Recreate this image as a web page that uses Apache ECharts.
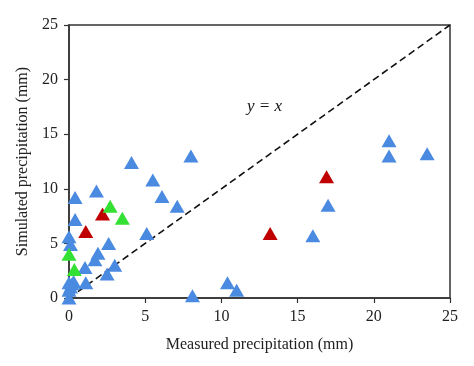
<!DOCTYPE html>
<html><head><meta charset="utf-8">
<script src="https://cdn.jsdelivr.net/npm/echarts@6/dist/echarts.min.js"></script>
<style>html,body{margin:0;padding:0;background:#fff}#c{width:474px;height:366px}</style>
</head><body><div id="c"></div>
<script>
const xTicks = [0, 5, 10, 15, 20, 25];
const yTicks = [0, 5, 10, 15, 20, 25];
const bluePoints = [
  [0, 0], [0, 0.7], [0.1, 1.0], [0.2, 1.3], [0.3, 1.5], [0, 1.4],
  [0, 5.6], [0.1, 4.9], [0.4, 9.2], [0.4, 7.2],
  [1.1, 1.4], [1.05, 2.8], [1.8, 9.8], [1.7, 3.5], [1.9, 4.1],
  [2.6, 5.0], [2.5, 2.2], [3.0, 3.0], [4.1, 12.4], [5.5, 10.8],
  [6.1, 9.3], [7.1, 8.4], [5.1, 5.9], [8.0, 13.0], [8.1, 0.2],
  [10.4, 1.4], [11.0, 0.7], [16.0, 5.7], [17.0, 8.5],
  [21.0, 14.4], [21.0, 13.0], [23.5, 13.2]
];
const redPoints = [[1.1, 6.1], [2.2, 7.7], [13.2, 5.9], [16.9, 11.1]];
const greenPoints = [[0, 4.0], [0.35, 2.6], [2.7, 8.4], [3.5, 7.3]];
const refLine = [[0, 0], [25, 25]];

const chart = echarts.init(document.getElementById('c'));
const font = '"Liberation Serif", "DejaVu Serif", serif';
const axisCommon = {
  min: 0, max: 25, interval: 5,
  axisLine: { show: true, onZero: false, lineStyle: { color: '#333', width: 1.5 } },
  axisTick: { show: true, inside: false, length: 5, lineStyle: { color: '#333', width: 1.2 } },
  splitLine: { show: false },
  axisLabel: { color: '#222', fontFamily: font, fontSize: 16 },
  nameTextStyle: { color: '#222', fontFamily: font, fontSize: 16 }
};
const tri = (data, color) => ({
  type: 'scatter', data, symbol: 'triangle', symbolSize: [15, 13],
  itemStyle: { color, opacity: 1 }, z: 3
});
chart.setOption({
  animation: false,
  grid: { left: 69, right: 24, top: 25, bottom: 68, show: true, borderColor: '#333', borderWidth: 1.5 },
  xAxis: Object.assign({}, axisCommon, {
    type: 'value', name: 'Measured precipitation (mm)', nameLocation: 'middle', nameGap: 39,
    axisLabel: Object.assign({}, axisCommon.axisLabel, { margin: 11 })
  }),
  yAxis: Object.assign({}, axisCommon, {
    type: 'value', name: 'Simulated precipitation (mm)', nameLocation: 'middle', nameGap: 38,
    axisLabel: Object.assign({}, axisCommon.axisLabel, { margin: 11 })
  }),
  series: [
    { type: 'line', data: refLine, symbol: 'none', lineStyle: { color: '#111', width: 1.6, type: [7, 4] }, z: 1 },
    tri(bluePoints, '#4a8ae0'),
    tri(redPoints, '#c00000'),
    tri(greenPoints, '#33e033')
  ],
  graphic: [{
    type: 'text', left: 247, top: 98,
    style: { text: 'y = x', fontFamily: font, fontStyle: 'italic', fontSize: 17, fill: '#111' }
  }]
});
</script></body></html>
